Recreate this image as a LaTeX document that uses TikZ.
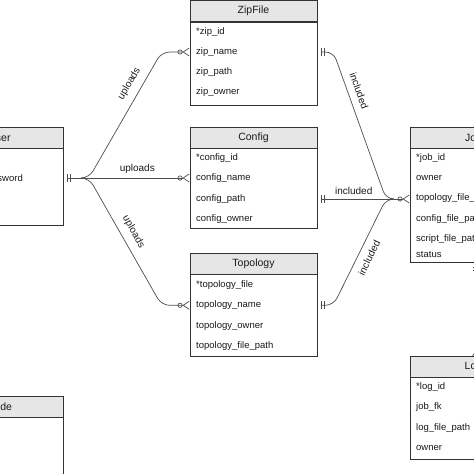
\documentclass[tikz,border=0pt]{standalone}
\usepackage{fontspec}
\setmainfont{Liberation Sans}
\usepackage{tikz}
\usetikzlibrary{
  arrows.meta,
  positioning,
  calc,
}
\definecolor{boxLine}{HTML}{333333}
\definecolor{headGray}{HTML}{E6E6E6}
\definecolor{relGray}{HTML}{4D4D4D}
\definecolor{txtDark}{HTML}{1A1A1A}

\tikzset{
  tblhead/.style={draw=boxLine, fill=headGray, line width=0.9pt,
    minimum width=127pt, minimum height=21pt, inner sep=0pt,
    text=txtDark, font=\fontsize{10.5}{12}\selectfont},
  tblbody/.style={draw=boxLine, fill=white, line width=0.9pt,
    minimum width=127pt, inner sep=0pt, below=0pt of #1},
  field/.style={anchor=west, inner sep=0pt, text=txtDark,
    font=\fontsize{9.5}{11}\selectfont},
  rel/.style={draw=relGray, line width=0.7pt},
  lbl/.style={text=txtDark, inner sep=4pt, font=\fontsize{10}{12}\selectfont},
  slbl/.style={lbl, sloped, inner sep=7pt},
  one/.style={{Bar[width=8pt,sep=2.5pt]Bar[width=8pt,sep=2.5pt]}-, shorten <=1pt},
  many/.style={-{Circle[open,length=5pt,width=5pt]Straight Barb[reversed,length=6pt,width=8pt]}},
  onemany/.style={{Bar[width=8pt,sep=2.5pt]Bar[width=8pt,sep=2.5pt]}-{Circle[open,length=5pt,width=5pt]Straight Barb[reversed,length=6pt,width=8pt]},
    shorten <=1pt},
}

\begin{document}
\begin{tikzpicture}[x=1pt, y=-1pt]
  \clip (0,0) rectangle (474,474);

  % tables
  \node[tblhead] (user) at (-0.5,137.5) {User};
  \node[tblbody=user, minimum height=77pt] (userb) {};
  \node[tblhead] (zip) at (253.5,11) {ZipFile};
  \node[tblbody=zip, minimum height=83.5pt] (zipb) {};
  \node[tblhead] (cfg) at (253.5,137.5) {Config};
  \node[tblbody=cfg, minimum height=80pt] (cfgb) {};
  \node[tblhead] (topo) at (253.5,263.5) {Topology};
  \node[tblbody=topo, minimum height=82pt] (topob) {};
  \node[tblhead] (job) at (473.5,137.5) {Job};
  \node[tblbody=job, minimum height=114pt] (jobb) {};
  \node[tblhead] (log) at (473.5,366.5) {Log};
  \node[tblbody=log, minimum height=82pt] (logb) {};
  \node[tblhead] (nd) at (-0.5,406.5) {Node};
  \node[tblbody=nd, minimum height=80pt] (ndb) {};

  % fields
  \node[field, anchor=east] (user-2) at (23,179) {password};
  \foreach \f [count=\i] in {*zip\_id, zip\_name, zip\_path, zip\_owner}
    \node[field] (zip-\i) at (196,{32+20*(\i-1)}) {\f};
  \foreach \f [count=\i] in {*config\_id, config\_name, config\_path, config\_owner}
    \node[field] (cfg-\i) at (196,{158+20.3*(\i-1)}) {\f};
  \foreach \f [count=\i] in {*topology\_file, topology\_name, topology\_owner, topology\_file\_path}
    \node[field] (topo-\i) at (196,{285+20.3*(\i-1)}) {\f};
  \foreach \f [count=\i] in {*job\_id, owner, topology\_file\_path, config\_file\_path, script\_file\_path}
    \node[field] (job-\i) at (416,{158+20.2*(\i-1)}) {\f};
  \node[field] (job-6) at (416,254) {status};
  \foreach \f [count=\i] in {*log\_id, job\_fk, log\_file\_path, owner}
    \node[field] (log-\i) at (416,{387+20.3*(\i-1)}) {\f};

  % uploads
  \coordinate (j1) at (85,178);
  \draw[rel, one] (userb.east |- j1) -- (j1);
  \draw[rel, many, rounded corners=8pt] (j1) -- ++(4,0)
    -- node[slbl, above, pos=0.7] {uploads} ($(zipb.west |- zip-2)+(-28,0)$)
    -- (zipb.west |- zip-2);
  \draw[rel, many] (j1) -- node[lbl, above] {uploads} (cfgb.west |- j1);
  \draw[rel, many, rounded corners=8pt] (j1) -- ++(4,0)
    -- node[slbl, above, pos=0.47] {uploads} ($(topob.west |- topo-2)+(-28,0)$)
    -- (topob.west |- topo-2);

  % included
  \coordinate (j2) at (390,199);
  \draw[rel, one, rounded corners=8pt] (zipb.east |- zip-2) -- ++(16,0)
    -- node[slbl, above, pos=0.29] {included} ($(j2)+(-4,0)$) -- (j2);
  \draw[rel, one] (cfgb.east |- j2) -- node[lbl, above] {included} (j2);
  \draw[rel, one, rounded corners=8pt] (topob.east |- topo-2) -- ++(16,0)
    -- node[slbl, below, pos=0.49] {included} ($(j2)+(-4,0)$) -- (j2);
  \draw[rel, many] (j2) -- (jobb.west |- j2);

  % job to log
  \draw[rel, onemany] ($(jobb.south)+(3,0)$) -- ($(logb.north)+(3,-21)$);
\end{tikzpicture}
\end{document}
